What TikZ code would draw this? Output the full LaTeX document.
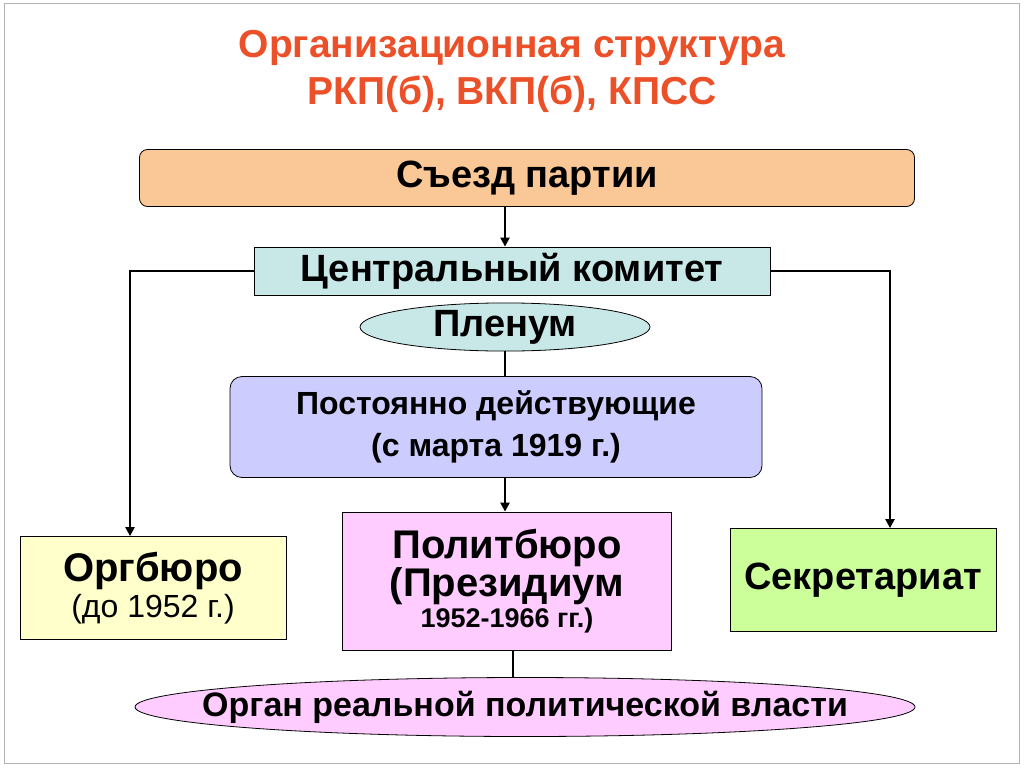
\documentclass[tikz,border=0pt]{standalone}
\usepackage{fontspec}
\setmainfont{Liberation Sans}
\usetikzlibrary{shapes.geometric,arrows.meta}
\definecolor{ttl}{RGB}{235,80,40}
\definecolor{peach}{RGB}{250,200,150}
\definecolor{teal2}{RGB}{200,232,232}
\definecolor{lav}{RGB}{204,204,255}
\definecolor{lyel}{RGB}{255,255,204}
\definecolor{lpink}{RGB}{255,204,255}
\definecolor{lgrn}{RGB}{204,255,153}
\begin{document}
\begin{tikzpicture}[x=1pt,y=-1pt,
 box/.style={draw=black,line width=0.8pt,inner sep=0pt},
 conn/.style={line width=2.2pt,-{Triangle[length=9pt,width=9pt]}},
 plain/.style={line width=2.2pt}]
\useasboundingbox (0,0) rectangle (1024,768);
\fill[white] (0,0) rectangle (1024,768);
\draw[gray!60,line width=1pt] (4,4) rectangle (1019,763);
\node[text=ttl,font=\bfseries\fontsize{39}{47}\selectfont,align=center] (t) at (512,71) {Организационная структура\\РКП(б), ВКП(б), КПСС};
\node[box,rounded corners=8pt,fill=peach,minimum width=775,minimum height=57,font=\bfseries\fontsize{38}{44}\selectfont] (s) at (527,178) {Съезд партии};
\node[box,fill=teal2,minimum width=516,minimum height=48,font=\bfseries\fontsize{38}{44}\selectfont] (ck) at (512,271) {Центральный комитет};
\node[box,ellipse,fill=teal2,minimum width=290,minimum height=46,inner sep=0pt,font=\bfseries\fontsize{38}{44}\selectfont] (pl) at (505,327) {Пленум};
\node[box,rounded corners=12pt,fill=lav,minimum width=532,minimum height=101,align=center,font=\bfseries\fontsize{32}{42}\selectfont] (pd) at (496,427) {Постоянно действующие\\(с марта 1919 г.)};
\node[box,fill=lyel,minimum width=266,minimum height=103,align=center] (ob) at (153,588) {{\bfseries\fontsize{40}{46}\selectfont Оргбюро}\\[3pt]{\fontsize{32}{38}\selectfont (до 1952 г.)}};
\node[box,fill=lpink,minimum width=329,minimum height=138,align=center] (pb) at (507,581) {{\bfseries\fontsize{40}{46}\selectfont Политбюро}\\{\bfseries\fontsize{40}{46}\selectfont (Президиум}\\[2pt]{\bfseries\fontsize{27}{32}\selectfont 1952-1966 гг.)}};
\node[box,fill=lgrn,minimum width=266,minimum height=103,font=\bfseries\fontsize{38}{44}\selectfont] (sk) at (863,580) {Секретариат};
\node[box,ellipse,fill=lpink,minimum width=780,minimum height=59,inner sep=0pt] (or) at (525,707) {};
\node[font=\bfseries\fontsize{34}{40}\selectfont] (ort) at (or.center) {Орган реальной политической власти};
\draw[conn] (s.south -| 505,0) -- (ck.north -| 505,0);
\draw[conn] (ck.west) -- (130,271) -- (ob.north -| 130,0);
\draw[conn] (ck.east) -- (890,271) -- (sk.north -| 890,0);
\draw[plain] (pl.south) -- (pd.north -| pl.south);
\draw[conn] (pd.south -| 505,0) -- (pb.north -| 505,0);
\draw[plain] (pb.south -| 513,0) -- (or.north -| 513,0);
\end{tikzpicture}
\end{document}
